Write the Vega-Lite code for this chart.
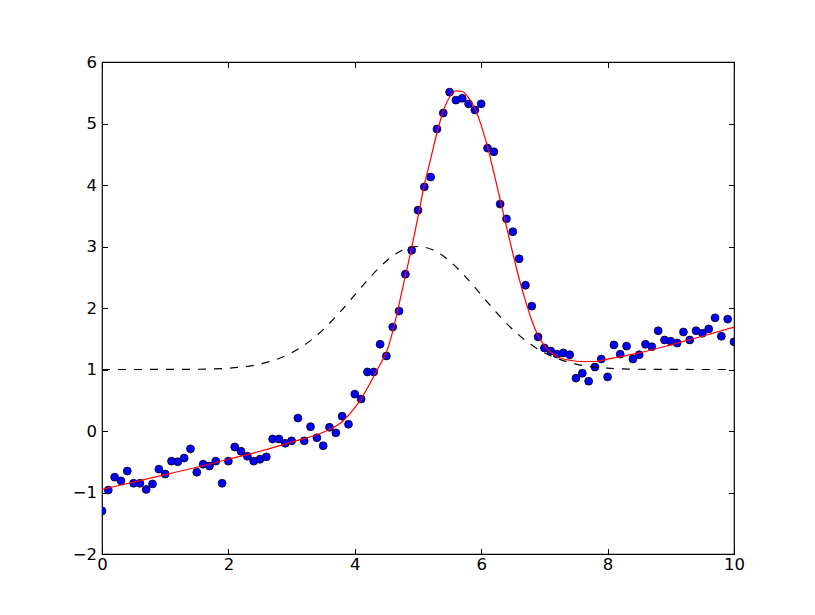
{
  "$schema": "https://vega.github.io/schema/vega-lite/v6.json",
  "width": 632,
  "height": 492,
  "autosize": {"type": "none"},
  "padding": {"left": 102, "top": 62, "right": 81, "bottom": 61},
  "background": "white",
  "config": {
    "view": {"stroke": "black", "strokeWidth": 1.2},
    "axis": {
      "grid": false,
      "domain": false,
      "labelFont": "DejaVu Sans",
      "labelFontSize": 16.5,
      "labelColor": "black",
      "labelFlush": false,
      "labelOverlap": false,
      "tickColor": "black",
      "tickSize": -5.5,
      "tickWidth": 1,
      "title": null
    }
  },
  "datasets": {
    "pts": [
      {"x":0.0,"y":-1.30},{"x":0.1,"y":-0.96},{"x":0.2,"y":-0.75},{"x":0.3,"y":-0.81},{"x":0.4,"y":-0.65},
      {"x":0.5,"y":-0.85},{"x":0.6,"y":-0.85},{"x":0.7,"y":-0.95},{"x":0.8,"y":-0.86},{"x":0.9,"y":-0.62},
      {"x":1.0,"y":-0.70},{"x":1.1,"y":-0.49},{"x":1.2,"y":-0.50},{"x":1.3,"y":-0.44},{"x":1.4,"y":-0.29},
      {"x":1.5,"y":-0.67},{"x":1.6,"y":-0.54},{"x":1.7,"y":-0.57},{"x":1.8,"y":-0.49},{"x":1.9,"y":-0.85},
      {"x":2.0,"y":-0.49},{"x":2.1,"y":-0.26},{"x":2.2,"y":-0.33},{"x":2.3,"y":-0.41},{"x":2.4,"y":-0.49},
      {"x":2.5,"y":-0.46},{"x":2.6,"y":-0.42},{"x":2.7,"y":-0.13},{"x":2.8,"y":-0.13},{"x":2.9,"y":-0.20},
      {"x":3.0,"y":-0.16},{"x":3.1,"y":0.21},{"x":3.2,"y":-0.16},{"x":3.3,"y":0.07},{"x":3.4,"y":-0.11},
      {"x":3.5,"y":-0.24},{"x":3.6,"y":0.06},{"x":3.7,"y":-0.03},{"x":3.8,"y":0.24},{"x":3.9,"y":0.11},
      {"x":4.0,"y":0.60},{"x":4.1,"y":0.52},{"x":4.2,"y":0.96},{"x":4.3,"y":0.96},{"x":4.4,"y":1.41},
      {"x":4.5,"y":1.22},{"x":4.6,"y":1.69},{"x":4.7,"y":1.95},{"x":4.8,"y":2.55},{"x":4.9,"y":2.94},
      {"x":5.0,"y":3.59},{"x":5.1,"y":3.97},{"x":5.2,"y":4.13},{"x":5.3,"y":4.91},{"x":5.4,"y":5.17},
      {"x":5.5,"y":5.51},{"x":5.6,"y":5.38},{"x":5.7,"y":5.41},{"x":5.8,"y":5.32},{"x":5.9,"y":5.22},
      {"x":6.0,"y":5.32},{"x":6.1,"y":4.60},{"x":6.2,"y":4.54},{"x":6.3,"y":3.69},{"x":6.4,"y":3.45},
      {"x":6.5,"y":3.24},{"x":6.6,"y":2.80},{"x":6.7,"y":2.37},{"x":6.8,"y":2.03},{"x":6.9,"y":1.53},
      {"x":7.0,"y":1.35},{"x":7.1,"y":1.30},{"x":7.2,"y":1.25},{"x":7.3,"y":1.27},{"x":7.4,"y":1.24},
      {"x":7.5,"y":0.86},{"x":7.6,"y":0.94},{"x":7.7,"y":0.81},{"x":7.8,"y":1.04},{"x":7.9,"y":1.17},
      {"x":8.0,"y":0.88},{"x":8.1,"y":1.40},{"x":8.2,"y":1.25},{"x":8.3,"y":1.38},{"x":8.4,"y":1.17},
      {"x":8.5,"y":1.24},{"x":8.6,"y":1.41},{"x":8.7,"y":1.37},{"x":8.8,"y":1.63},{"x":8.9,"y":1.48},
      {"x":9.0,"y":1.46},{"x":9.1,"y":1.43},{"x":9.2,"y":1.61},{"x":9.3,"y":1.48},{"x":9.4,"y":1.63},
      {"x":9.5,"y":1.59},{"x":9.6,"y":1.66},{"x":9.7,"y":1.84},{"x":9.8,"y":1.54},{"x":9.9,"y":1.82},
      {"x":10.0,"y":1.45}
    ],
    "fit": [
      {"x":0.0,"y":-0.95},{"x":0.5,"y":-0.83},{"x":1.0,"y":-0.71},{"x":1.5,"y":-0.59},{"x":2.0,"y":-0.46},
      {"x":2.5,"y":-0.33},{"x":3.0,"y":-0.18},{"x":3.5,"y":-0.02},{"x":3.8,"y":0.15},{"x":4.0,"y":0.38},
      {"x":4.1,"y":0.52},{"x":4.2,"y":0.70},{"x":4.3,"y":0.89},{"x":4.4,"y":1.08},{"x":4.5,"y":1.28},
      {"x":4.6,"y":1.62},{"x":4.7,"y":2.06},{"x":4.8,"y":2.52},{"x":4.9,"y":2.98},{"x":5.0,"y":3.48},
      {"x":5.1,"y":4.00},{"x":5.2,"y":4.42},{"x":5.3,"y":4.85},{"x":5.4,"y":5.20},{"x":5.5,"y":5.43},
      {"x":5.6,"y":5.53},{"x":5.7,"y":5.52},{"x":5.8,"y":5.42},{"x":5.9,"y":5.24},{"x":6.0,"y":4.97},
      {"x":6.1,"y":4.62},{"x":6.2,"y":4.20},{"x":6.3,"y":3.76},{"x":6.4,"y":3.32},{"x":6.5,"y":2.89},
      {"x":6.6,"y":2.48},{"x":6.7,"y":2.12},{"x":6.8,"y":1.80},{"x":6.9,"y":1.55},{"x":7.0,"y":1.39},
      {"x":7.1,"y":1.28},{"x":7.2,"y":1.21},{"x":7.3,"y":1.17},{"x":7.4,"y":1.15},{"x":7.6,"y":1.13},
      {"x":7.8,"y":1.13},{"x":8.0,"y":1.17},{"x":8.5,"y":1.27},{"x":9.0,"y":1.40},{"x":9.5,"y":1.54},
      {"x":10.0,"y":1.69}
    ],
    "gauss": [
      {"x":0.0,"y":1.0},{"x":1.0,"y":1.0007},{"x":1.5,"y":1.004},{"x":2.0,"y":1.022},{"x":2.5,"y":1.088},
      {"x":3.0,"y":1.271},{"x":3.25,"y":1.433},{"x":3.5,"y":1.649},{"x":3.75,"y":1.916},{"x":4.0,"y":2.213},
      {"x":4.25,"y":2.510},{"x":4.5,"y":2.765},{"x":4.75,"y":2.938},{"x":5.0,"y":3.0},{"x":5.25,"y":2.938},
      {"x":5.5,"y":2.765},{"x":5.75,"y":2.510},{"x":6.0,"y":2.213},{"x":6.25,"y":1.916},{"x":6.5,"y":1.649},
      {"x":6.75,"y":1.433},{"x":7.0,"y":1.271},{"x":7.5,"y":1.088},{"x":8.0,"y":1.022},{"x":8.5,"y":1.004},
      {"x":9.0,"y":1.0007},{"x":10.0,"y":1.0}
    ]
  },
  "layer": [
    {
      "data": {"name": "pts"},
      "mark": {"type": "point", "shape": "circle", "filled": true, "fill": "#0000ff", "stroke": "black", "strokeWidth": 0.8, "size": 62, "opacity": 1, "clip": true},
      "encoding": {
        "x": {"field": "x", "type": "quantitative", "scale": {"domain": [0, 10], "nice": false, "zero": false},
              "axis": {"orient": "bottom", "values": [0, 2, 4, 6, 8, 10], "labelPadding": 7.5}},
        "y": {"field": "y", "type": "quantitative", "scale": {"domain": [-2, 6], "nice": false, "zero": false},
              "axis": {"orient": "left", "values": [-2, -1, 0, 1, 2, 3, 4, 5, 6], "labelPadding": 11}}
      }
    },
    {
      "data": {"name": "gauss"},
      "mark": {"type": "line", "color": "black", "strokeWidth": 1.2, "strokeDash": [8, 8], "interpolate": "monotone", "clip": true},
      "encoding": {
        "x": {"field": "x", "type": "quantitative", "axis": {"orient": "top", "values": [0, 2, 4, 6, 8, 10], "labels": false}},
        "y": {"field": "y", "type": "quantitative", "axis": {"orient": "right", "values": [-2, -1, 0, 1, 2, 3, 4, 5, 6], "labels": false}}
      }
    },
    {
      "data": {"name": "fit"},
      "mark": {"type": "line", "color": "red", "strokeWidth": 1.2, "interpolate": "monotone", "clip": true},
      "encoding": {
        "x": {"field": "x", "type": "quantitative", "axis": null},
        "y": {"field": "y", "type": "quantitative", "axis": null}
      }
    }
  ],
  "resolve": {"axis": {"x": "independent", "y": "independent"}}
}
